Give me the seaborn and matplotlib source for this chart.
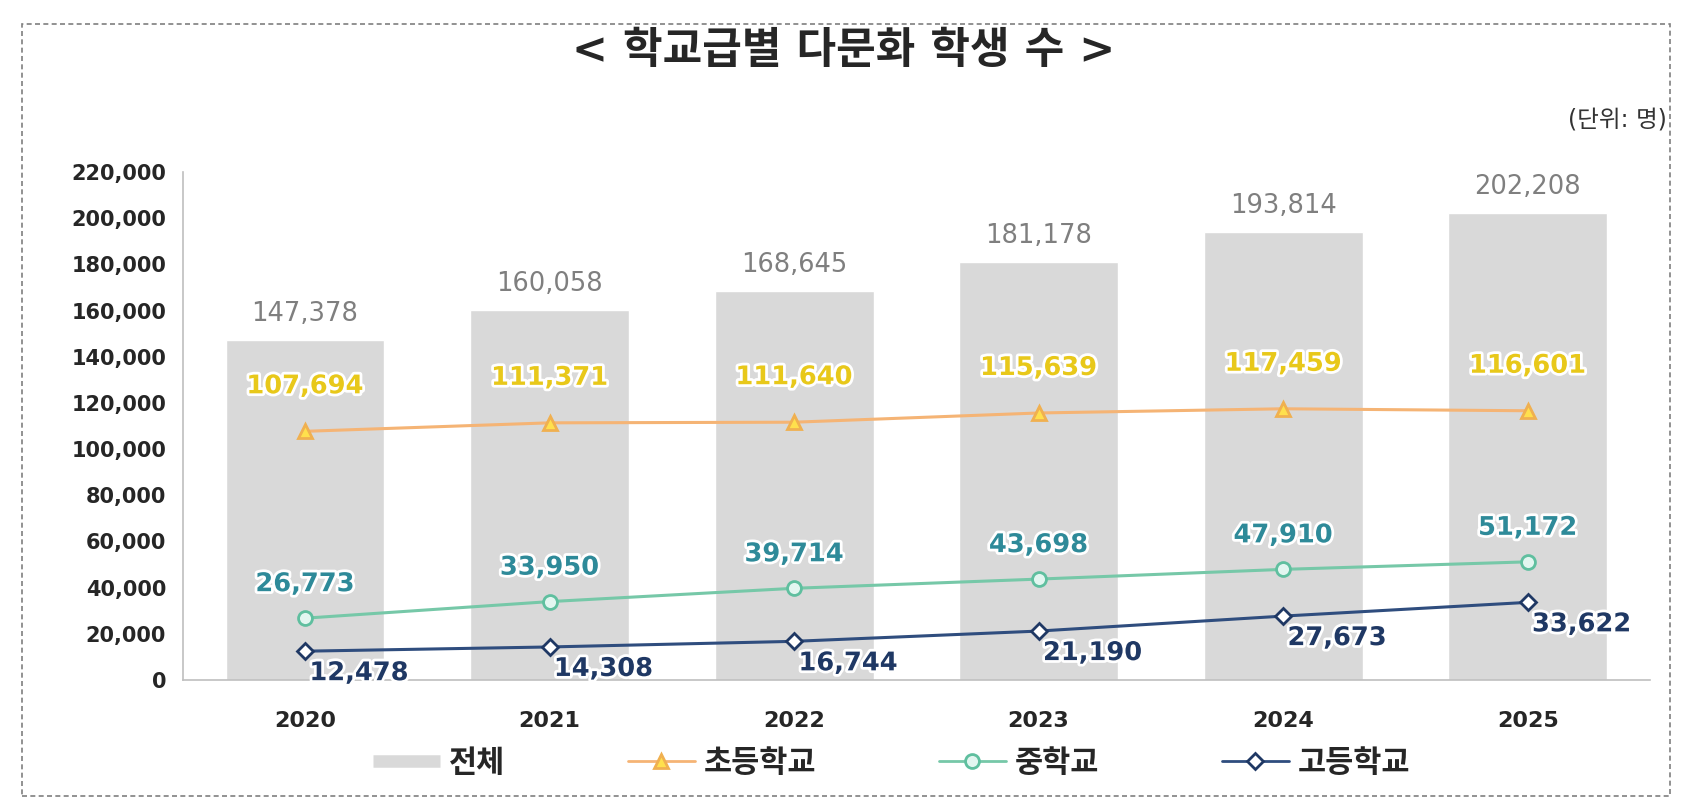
import numpy as np
import seaborn as sns
import matplotlib.pyplot as plt
import matplotlib.patheffects as pe
from matplotlib.lines import Line2D
from matplotlib.patches import Rectangle

# 데이터
years = ['2020', '2021', '2022', '2023', '2024', '2025']
total = [147378, 160058, 168645, 181178, 193814, 202208]
elementary = [107694, 111371, 111640, 115639, 117459, 116601]
middle = [26773, 33950, 39714, 43698, 47910, 51172]
high = [12478, 14308, 16744, 21190, 27673, 33622]
series_names = ['전체', '초등학교', '중학교', '고등학교']

sns.set_style('white')
plt.rcParams['font.family'] = ['DejaVu Sans', 'Noto Sans CJK KR']

fig = plt.figure(figsize=(17.08, 8), dpi=100)
ax = fig.add_axes([0.107, 0.15, 0.859, 0.635])

sns.barplot(x=years, y=total, color='#d9d9d9', width=0.65, saturation=1, ax=ax)

line_styles = [
    (elementary, '#f5b475', '^', '#ffe04d', '#f0b050'),
    (middle, '#76c8a8', 'o', '#e2f6f0', '#5fbf9f'),
    (high, '#2f4d7e', 'D', 'white', '#1f3864'),
]
for vals, lc, mk, mfc, mec in line_styles:
    sns.pointplot(x=years, y=vals, color=lc, markers=mk, errorbar=None,
                  linewidth=2.2, markersize=10 if mk != 'D' else 8,
                  markerfacecolor=mfc, markeredgecolor=mec, markeredgewidth=2,
                  ax=ax)

ax.set_ylim(0, 220000)
ax.set_xlim(-0.5, 5.5)
ax.set_yticks(np.arange(0, 220001, 20000))
ax.set_yticklabels([f'{v:,}' for v in range(0, 220001, 20000)],
                   fontsize=15, fontweight='bold')
ax.set_xticks(range(len(years)))
ax.set_xticklabels(years, fontsize=16, fontweight='bold')
ax.set_xticks(np.arange(-0.5, 6, 1), minor=True)
ax.tick_params(axis='x', which='major', length=0, pad=22)
ax.tick_params(axis='x', which='minor', length=7, color='#bfbfbf', direction='out')
ax.tick_params(axis='y', length=4, color='#bfbfbf', direction='in', pad=12)
ax.set_xlabel('')
ax.set_ylabel('')
for s in ['top', 'right']:
    ax.spines[s].set_visible(False)
for s in ['left', 'bottom']:
    ax.spines[s].set_color('#bfbfbf')
    ax.spines[s].set_linewidth(1.2)

white = [pe.withStroke(linewidth=4, foreground='white')]
for i in range(len(years)):
    ax.annotate(f'{total[i]:,}', (i, total[i]), xytext=(0, 26),
                textcoords='offset pixels', ha='center', va='center',
                fontsize=18.5, color='#7f7f7f')
    ax.annotate(f'{elementary[i]:,}', (i, elementary[i]), xytext=(0, 45),
                textcoords='offset pixels', ha='center', va='center',
                fontsize=18.5, fontweight='bold', color='#e8c81a', path_effects=white)
    ax.annotate(f'{middle[i]:,}', (i, middle[i]), xytext=(0, 34),
                textcoords='offset pixels', ha='center', va='center',
                fontsize=18.5, fontweight='bold', color='#2e8a99', path_effects=white)
    ax.annotate(f'{high[i]:,}', (i, high[i]), xytext=(54, -22),
                textcoords='offset pixels', ha='center', va='center',
                fontsize=18.5, fontweight='bold', color='#1f3864', path_effects=white)

# 범례
handles = [
    Line2D([], [], color='#d9d9d9', lw=9, solid_capstyle='butt'),
    Line2D([], [], color='#f5b475', lw=2, marker='^', ms=10, mfc='#ffe04d', mec='#f0b050', mew=2),
    Line2D([], [], color='#76c8a8', lw=2, marker='o', ms=10, mfc='#e2f6f0', mec='#5fbf9f', mew=2),
    Line2D([], [], color='#2f4d7e', lw=2, marker='D', ms=8, mfc='white', mec='#1f3864', mew=2),
]
fig.legend(handles, series_names, loc='center', bbox_to_anchor=(0.522, 0.046),
           ncol=4, frameon=False, handlelength=2.2, columnspacing=4.0,
           handletextpad=0.3, prop={'size': 22, 'weight': 'bold'})

fig.text(0.494, 0.936, '< 학교급별 다문화 학생 수 >', ha='center', va='center',
         fontsize=31, fontweight='bold')
fig.text(0.976, 0.85, '(단위: 명)', ha='right', va='center', fontsize=17, color='#333333')

fig.add_artist(Rectangle((0.013, 0.005), 0.965, 0.965, transform=fig.transFigure,
                         fill=False, linestyle=(0, (3, 2)), edgecolor='#7f7f7f', lw=1.2))

fig.savefig('out.png', dpi=100)
